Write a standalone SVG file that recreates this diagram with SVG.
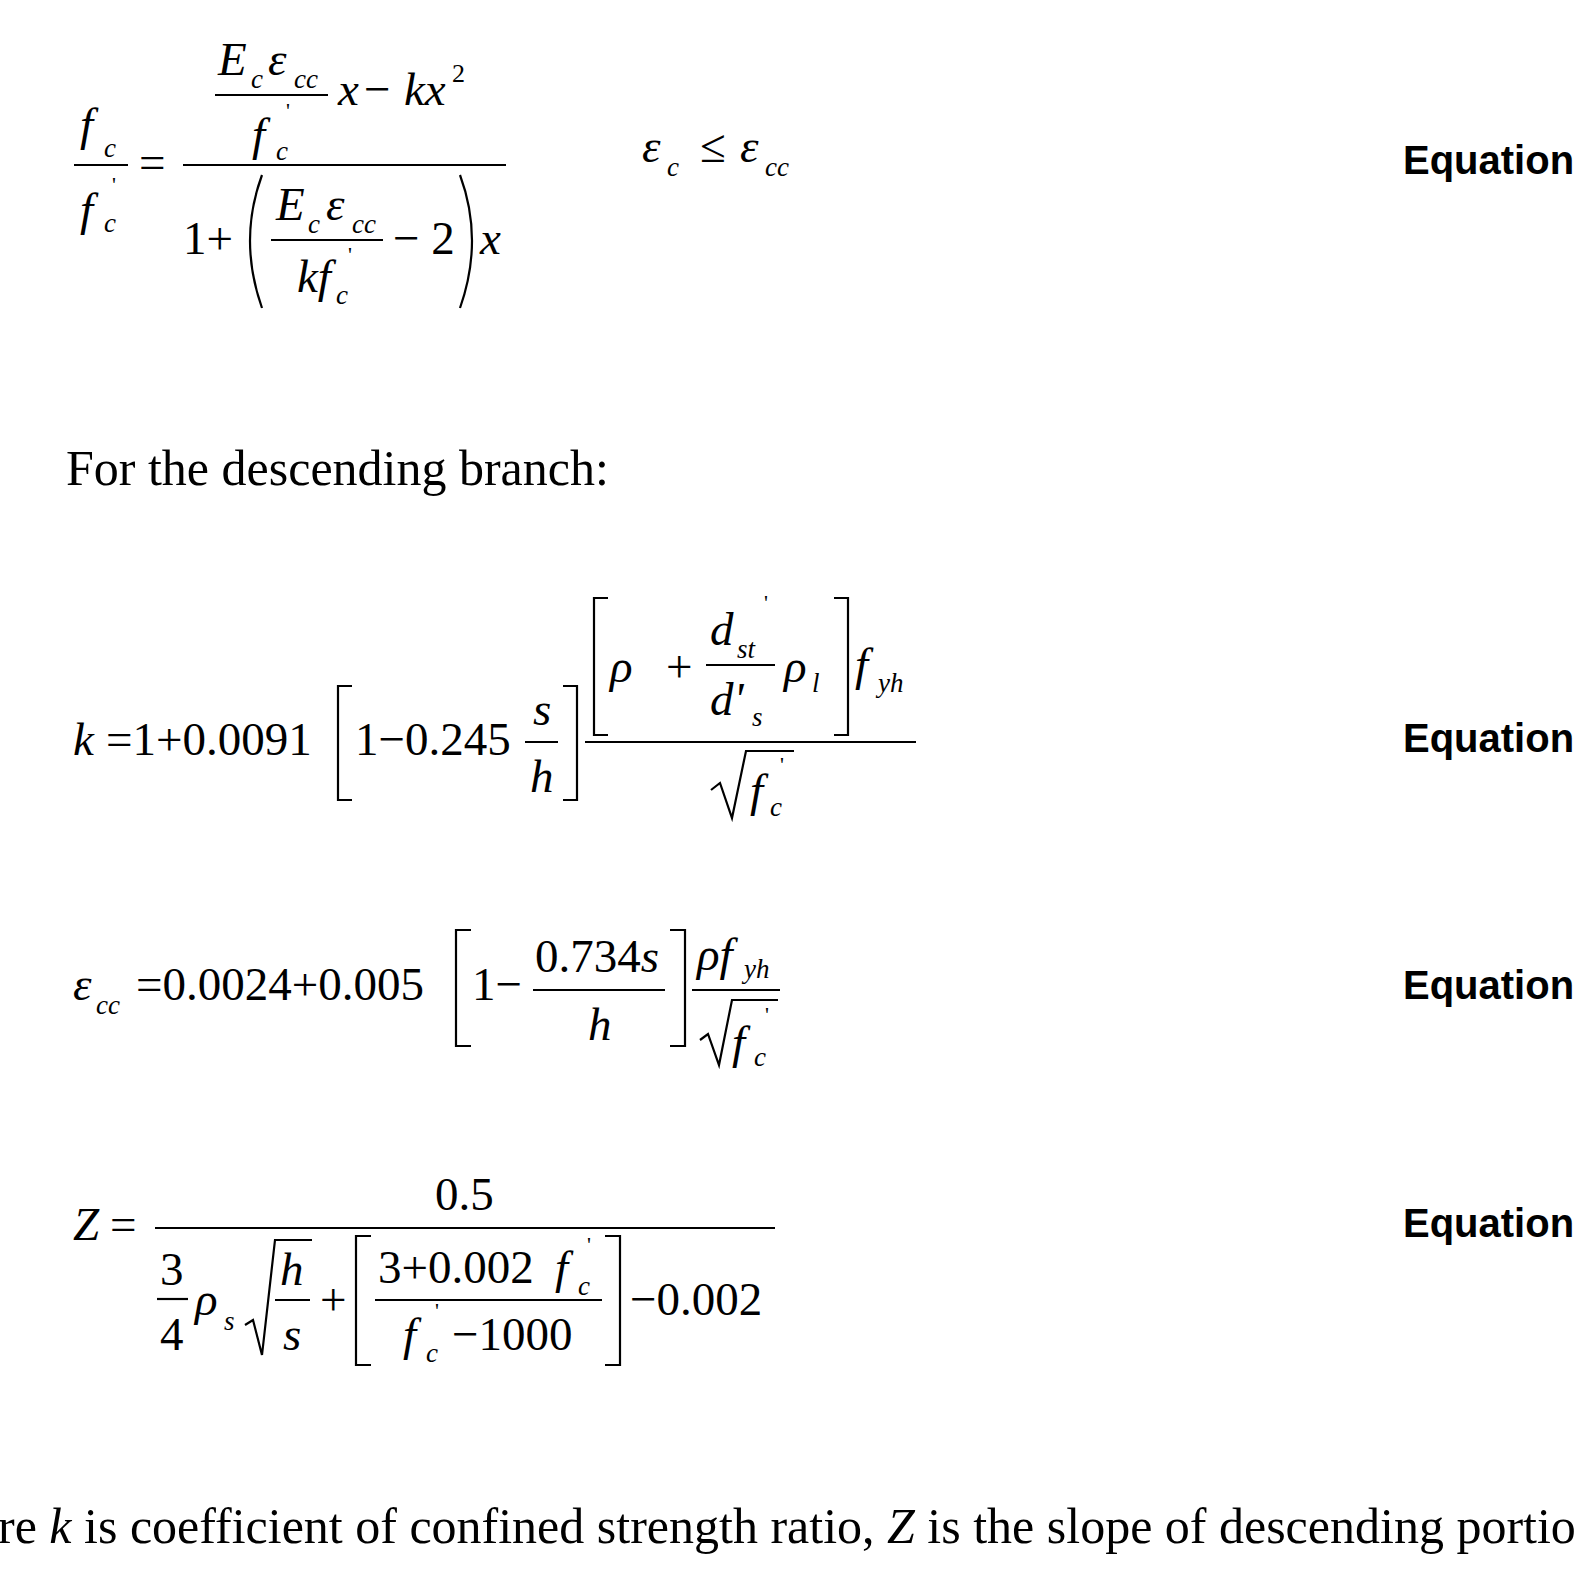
<svg xmlns="http://www.w3.org/2000/svg" width="1579" height="1585" viewBox="0 0 1579 1585">
<style>
text{font-family:"Liberation Serif","Times New Roman",serif;font-size:47px;fill:#000}
.t{font-size:50px}
.i{font-style:italic}
.s{font-size:27px;font-style:italic}
.p{font-size:22px}
.eq{font-family:"Liberation Sans",Arial,sans-serif;font-weight:bold;font-size:40px}
line,path{stroke:#000;stroke-width:2.2;fill:none}
</style>
<rect width="1579" height="1585" fill="#fff"/>
<g id="eq1">
<text class="i" x="80" y="140">f</text><text class="s" x="104" y="157">c</text>
<line x1="74" y1="165" x2="128" y2="165"/>
<text class="i" x="80" y="225">f</text><text class="p" x="112" y="192">'</text><text class="s" x="104" y="232">c</text>
<text x="139" y="178">=</text>
<line x1="183" y1="165" x2="506" y2="165"/>
<text class="i" x="218" y="75">E</text><text class="s" x="251" y="88">c</text><text class="i" x="268" y="75">ε</text><text class="s" x="294" y="88">cc</text>
<line x1="215" y1="95" x2="328" y2="95"/>
<text class="i" x="252" y="150">f</text><text class="p" x="286" y="118">'</text><text class="s" x="276" y="160">c</text>
<text class="i" x="338" y="105">x</text><text x="364" y="105">−</text><text class="i" x="404" y="105">kx</text><text class="p" x="452" y="82" style="font-size:26px">2</text>
<text x="183" y="254">1+</text>
<path d="M262 175 Q238 240 262 308"/>
<text class="i" x="276" y="220">E</text><text class="s" x="308" y="233">c</text><text class="i" x="326" y="220">ε</text><text class="s" x="352" y="233">cc</text>
<line x1="271" y1="240" x2="383" y2="240"/>
<text class="i" x="297" y="292">kf</text><text class="p" x="348" y="262">'</text><text class="s" x="336" y="304">c</text>
<text x="393" y="254">− 2</text>
<path d="M460 175 Q484 240 460 308"/>
<text class="i" x="480" y="254">x</text>
<text class="i" x="642" y="162">ε</text><text class="s" x="667" y="176">c</text><text x="700" y="162">≤</text><text class="i" x="740" y="162">ε</text><text class="s" x="765" y="176">cc</text>
<text class="eq" x="1403" y="174">Equation</text>
</g>
<text class="t" x="66" y="485">For the descending branch:</text>
<g id="eq2">
<text class="i" x="73" y="755">k</text><text x="106" y="755">=1+0.0091</text>
<path d="M352 686 H338 V800 H352"/>
<text x="355" y="755">1−0.245</text>
<text class="i" x="533" y="725">s</text><line x1="525" y1="742" x2="558" y2="742"/><text class="i" x="530" y="792">h</text>
<path d="M563 686 H577 V800 H563"/>
<line x1="585" y1="742" x2="916" y2="742"/>
<path d="M608 598 H594 V735 H608"/>
<text class="i" x="610" y="682">ρ</text><text x="666" y="682">+</text>
<text class="i" x="710" y="645">d</text><text class="s" x="737" y="658">st</text><text class="p" x="764" y="610">'</text>
<line x1="706" y1="665" x2="775" y2="665"/>
<text class="i" x="710" y="715">d'</text><text class="s" x="752" y="726">s</text>
<text class="i" x="784" y="682">ρ</text><text class="s" x="812" y="692">l</text>
<path d="M834 598 H848 V735 H834"/>
<text class="i" x="855" y="680">f</text><text class="s" x="878" y="692">yh</text>
<path d="M711 790 L720 783 L732 818 L746 751 H794"/>
<text class="i" x="750" y="806">f</text><text class="p" x="780" y="772">'</text><text class="s" x="770" y="816">c</text>
<text class="eq" x="1403" y="752">Equation</text>
</g>
<g id="eq3">
<text class="i" x="73" y="1000">ε</text><text class="s" x="96" y="1014">cc</text>
<text x="136" y="1000">=0.0024+0.005</text>
<path d="M471 930 H456 V1046 H471"/>
<text x="472" y="1000">1−</text>
<text x="535" y="972">0.734<tspan class="i">s</tspan></text>
<line x1="533" y1="990" x2="665" y2="990"/>
<text class="i" x="588" y="1040">h</text>
<path d="M670 930 H685 V1046 H670"/>
<text class="i" x="697" y="970">ρf</text><text class="s" x="744" y="978">yh</text>
<line x1="692" y1="990" x2="780" y2="990"/>
<path d="M700 1040 L708 1034 L719 1065 L732 1000 H778"/>
<text class="i" x="732" y="1058">f</text><text class="p" x="765" y="1022">'</text><text class="s" x="754" y="1066">c</text>
<text class="eq" x="1403" y="999">Equation</text>
</g>
<g id="eq4">
<text class="i" x="73" y="1240">Z</text><text x="110" y="1240">=</text>
<line x1="155" y1="1228" x2="775" y2="1228"/>
<text x="435" y="1210">0.5</text>
<text x="160" y="1285">3</text><line x1="157" y1="1299" x2="188" y2="1299"/><text x="160" y="1350">4</text>
<text class="i" x="195" y="1315">ρ</text><text class="s" x="224" y="1330">s</text>
<path d="M245 1325 L253 1320 L262 1355 L275 1240 H312"/>
<text class="i" x="280" y="1285">h</text><line x1="275" y1="1300" x2="310" y2="1300"/><text class="i" x="283" y="1350">s</text>
<text x="320" y="1315">+</text>
<path d="M371 1236 H356 V1365 H371"/>
<text x="378" y="1283">3+0.002</text><text class="i" x="555" y="1283">f</text><text class="s" x="578" y="1295">c</text><text class="p" x="587" y="1252">'</text>
<line x1="375" y1="1300" x2="602" y2="1300"/>
<text class="i" x="403" y="1350">f</text><text class="p" x="435" y="1318">'</text><text class="s" x="426" y="1362">c</text><text x="452" y="1350">−1000</text>
<path d="M605 1236 H620 V1365 H605"/>
<text x="630" y="1315">−0.002</text>
<text class="eq" x="1403" y="1237">Equation</text>
</g>
<text class="t" x="-2" y="1543">re <tspan class="i">k</tspan> is coefficient of confined strength ratio, <tspan class="i">Z</tspan> is the slope of descending portio</text>
</svg>
